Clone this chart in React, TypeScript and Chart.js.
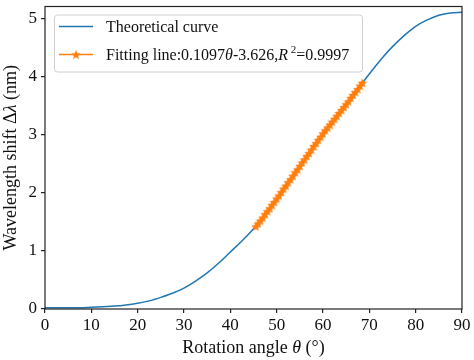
import { useEffect, useRef } from "react";
import { Chart, registerables } from "chart.js";

Chart.register(...registerables);

// Theoretical curve
const theoAngles = [0, 2.5, 5, 7.5, 10, 12.5, 15, 17.5, 20, 22.5, 25, 27.5, 30, 32.5, 35, 37.5, 40, 42.5, 45, 47.5, 50, 52.5, 55, 57.5, 60, 62.5, 65, 67.5, 70, 72.5, 75, 77.5, 80, 82.5, 85, 87.5, 90];
const theoValues = [0.02, 0.02, 0.02, 0.02, 0.03, 0.04, 0.05, 0.07, 0.1, 0.14, 0.2, 0.27, 0.36, 0.48, 0.62, 0.79, 0.98, 1.17, 1.38, 1.63, 1.9, 2.18, 2.46, 2.74, 3.02, 3.27, 3.52, 3.78, 4.04, 4.29, 4.51, 4.7, 4.86, 4.97, 5.05, 5.09, 5.1];

// Fitting points
const fitAngles = [45.5, 46, 46.5, 47, 47.5, 48, 48.5, 49, 49.5, 50, 50.5, 51, 51.5, 52, 52.5, 53, 53.5, 54, 54.5, 55, 55.5, 56, 56.5, 57, 57.5, 58, 58.5, 59, 59.5, 60, 60.5, 61, 61.5, 62, 62.5, 63, 63.5, 64, 64.5, 65, 65.5, 66, 66.5, 67, 67.5, 68, 68.5];
const fitValues = [1.42, 1.47, 1.52, 1.57, 1.63, 1.68, 1.73, 1.79, 1.84, 1.9, 1.95, 2.01, 2.07, 2.12, 2.18, 2.23, 2.29, 2.35, 2.4, 2.46, 2.52, 2.57, 2.63, 2.68, 2.74, 2.8, 2.85, 2.91, 2.96, 3.02, 3.07, 3.12, 3.17, 3.22, 3.27, 3.32, 3.37, 3.42, 3.47, 3.52, 3.57, 3.63, 3.68, 3.73, 3.78, 3.84, 3.89];

const xTicks = [0, 10, 20, 30, 40, 50, 60, 70, 80, 90];
const yTicks = [0, 1, 2, 3, 4, 5];

const BLUE = "#1f77b4";
const ORANGE = "#ff7f0e";
const SERIF = '"Liberation Serif", "DejaVu Serif", "Times New Roman", serif';
const INK = "#222";

type Seg = { t: string; f: string; dy?: number };

function makeStar(size: number, color: string) {
  const c = document.createElement("canvas");
  c.width = size;
  c.height = size;
  const g = c.getContext("2d")!;
  const cx = size / 2, cy = size / 2 + 0.5, R = size / 2, r = R * 0.45;
  g.beginPath();
  for (let i = 0; i < 10; i++) {
    const a = -Math.PI / 2 + (i * Math.PI) / 5;
    const rad = i % 2 === 0 ? R : r;
    g.lineTo(cx + rad * Math.cos(a), cy + rad * Math.sin(a));
  }
  g.closePath();
  g.fillStyle = color;
  g.fill();
  return c;
}

function drawRich(ctx: CanvasRenderingContext2D, segs: Seg[], x: number, y: number, align: "left" | "center") {
  ctx.textBaseline = "middle";
  ctx.textAlign = "left";
  let total = 0;
  for (const s of segs) {
    ctx.font = s.f;
    total += ctx.measureText(s.t).width;
  }
  let cx = align === "center" ? x - total / 2 : x;
  for (const s of segs) {
    ctx.font = s.f;
    ctx.fillText(s.t, cx, y + (s.dy || 0));
    cx += ctx.measureText(s.t).width;
  }
}

export default function App() {
  const ref = useRef<HTMLCanvasElement | null>(null);

  useEffect(() => {
    if (!ref.current) return;
    const star = makeStar(10, ORANGE);

    const overlay = {
      id: "overlay",
      afterDraw(chart: any) {
        const ctx: CanvasRenderingContext2D = chart.ctx;
        const a = chart.chartArea;
        ctx.save();
        // frame
        ctx.strokeStyle = INK;
        ctx.lineWidth = 1.2;
        ctx.strokeRect(a.left, a.top, a.right - a.left, a.bottom - a.top);

        // legend
        const lx = a.left + 9, ly = a.top + 8, lw = 308, lh = 57;
        ctx.beginPath();
        (ctx as any).roundRect(lx + 0.5, ly + 0.5, lw, lh, 3);
        ctx.fillStyle = "rgba(255,255,255,0.8)";
        ctx.fill();
        ctx.strokeStyle = "#d0d0d0";
        ctx.lineWidth = 1;
        ctx.stroke();

        const r1 = ly + 12, r2 = ly + 40;
        ctx.lineWidth = 1.5;
        ctx.strokeStyle = BLUE;
        ctx.beginPath();
        ctx.moveTo(lx + 5, r1);
        ctx.lineTo(lx + 39, r1);
        ctx.stroke();
        ctx.strokeStyle = ORANGE;
        ctx.beginPath();
        ctx.moveTo(lx + 5, r2);
        ctx.lineTo(lx + 39, r2);
        ctx.stroke();
        ctx.drawImage(star, lx + 22 - 5, r2 - 5);

        ctx.fillStyle = "#111";
        const f = `16px ${SERIF}`;
        const fi = `italic 16px ${SERIF}`;
        drawRich(ctx, [{ t: "Theoretical curve", f }], lx + 52, r1 + 1, "left");
        drawRich(
          ctx,
          [
            { t: "Fitting line:0.1097", f },
            { t: "θ", f: fi },
            { t: "-3.626,", f },
            { t: "R", f: fi },
            { t: " 2", f: `11px ${SERIF}`, dy: -5 },
            { t: "=0.9997", f },
          ],
          lx + 52,
          r2 + 1,
          "left"
        );

        // axis titles
        const ft = `18px ${SERIF}`;
        const fti = `italic 18px ${SERIF}`;
        drawRich(
          ctx,
          [
            { t: "Rotation angle ", f: ft },
            { t: "θ", f: fti },
            { t: " (°)", f: ft },
          ],
          (a.left + a.right) / 2,
          348,
          "center"
        );
        ctx.translate(11, (a.top + a.bottom) / 2);
        ctx.rotate(-Math.PI / 2);
        drawRich(
          ctx,
          [
            { t: "Wavelength shift Δ", f: ft },
            { t: "λ", f: fti },
            { t: " (nm)", f: ft },
          ],
          0,
          0,
          "center"
        );
        ctx.restore();
      },
    };

    const chart = new Chart(ref.current, {
      type: "scatter",
      data: {
        datasets: [
          {
            label: "Fitting line",
            data: fitAngles.map((x, i) => ({ x, y: fitValues[i] })),
            showLine: true,
            borderColor: ORANGE,
            backgroundColor: ORANGE,
            borderWidth: 1.5,
            pointStyle: star as any,
            pointRadius: 5,
            order: 0,
          },
          {
            label: "Theoretical curve",
            data: theoAngles.map((x, i) => ({ x, y: theoValues[i] })),
            showLine: true,
            borderColor: BLUE,
            backgroundColor: BLUE,
            borderWidth: 1.5,
            pointRadius: 0,
            cubicInterpolationMode: "monotone",
            order: 1,
          },
        ],
      },
      options: {
        animation: false,
        responsive: false,
        maintainAspectRatio: false,
        layout: { padding: { top: 3, right: 12, left: 0, bottom: 0 } },
        plugins: { legend: { display: false }, tooltip: { enabled: false } },
        scales: {
          x: {
            type: "linear",
            min: 0,
            max: 90,
            afterBuildTicks: (s: any) => {
              s.ticks = xTicks.map((v) => ({ value: v }));
            },
            afterFit: (s: any) => {
              s.height = 51;
              s.paddingLeft = 0;
              s.paddingRight = 0;
            },
            grid: { display: true, drawOnChartArea: false, drawTicks: true, tickLength: 4, color: INK, lineWidth: 1.2 },
            border: { display: false },
            ticks: { color: "#111", font: { family: SERIF, size: 17 }, padding: 2, maxRotation: 0, autoSkip: false },
          },
          y: {
            type: "linear",
            min: 0,
            max: 5.2,
            afterBuildTicks: (s: any) => {
              s.ticks = yTicks.map((v) => ({ value: v }));
            },
            afterFit: (s: any) => {
              s.width = 45;
              s.paddingTop = 0;
              s.paddingBottom = 0;
            },
            grid: { display: true, drawOnChartArea: false, drawTicks: true, tickLength: 4, color: INK, lineWidth: 1.2 },
            border: { display: false },
            ticks: { color: "#111", font: { family: SERIF, size: 17 }, padding: 4, autoSkip: false },
          },
        },
      },
      plugins: [overlay],
    } as any);

    return () => chart.destroy();
  }, []);

  return (
    <div style={{ position: "fixed", left: 0, top: 0, width: 474, height: 360, background: "#fff" }}>
      <canvas ref={ref} width={474} height={360} style={{ display: "block", width: 474, height: 360 }} />
    </div>
  );
}
